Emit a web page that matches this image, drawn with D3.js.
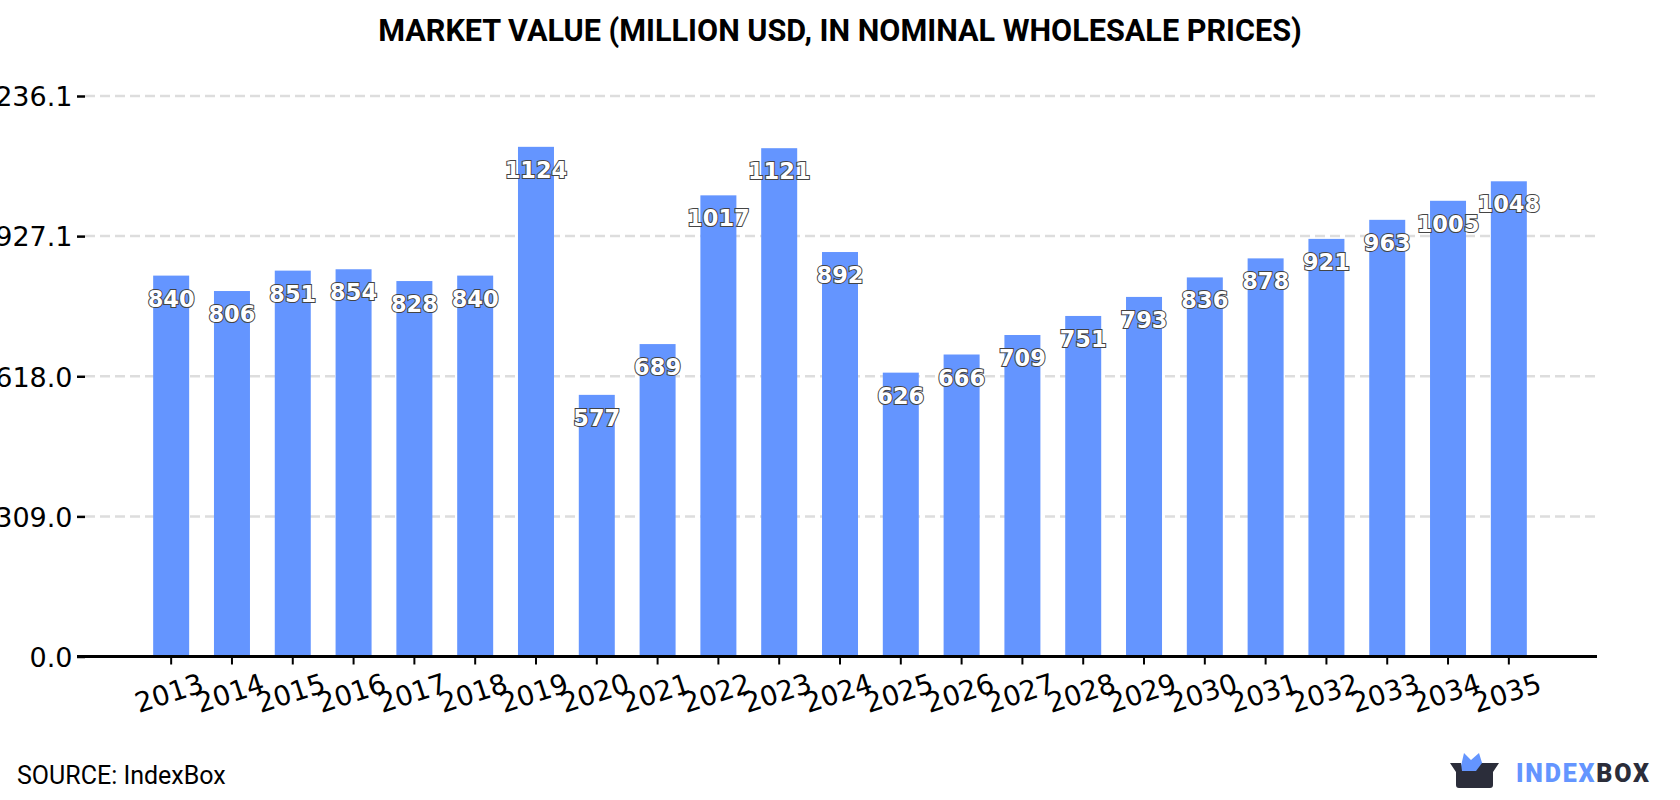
<!DOCTYPE html>
<html>
<head>
<meta charset="utf-8">
<script src="https://cdn.jsdelivr.net/npm/d3@7/dist/d3.min.js"></script>
<style>
html, body { margin: 0; padding: 0; background: #fff; overflow: hidden; }
svg { display: block; }
</style>
</head>
<body>
<svg id="chart" width="1680" height="800"></svg>
<script>
const years = ["2013","2014","2015","2016","2017","2018","2019","2020","2021","2022","2023","2024","2025","2026","2027","2028","2029","2030","2031","2032","2033","2034","2035"];
const marketValue = [840,806,851,854,828,840,1124,577,689,1017,1121,892,626,666,709,751,793,836,878,921,963,1005,1048];
const yTicks = [0, 309.0, 618.0, 927.1, 1236.1];
const titleText = "MARKET VALUE (MILLION USD, IN NOMINAL WHOLESALE PRICES)";
const sourceText = "SOURCE: IndexBox";

const svg = d3.select("#chart");
const axisFont = "'DejaVu Sans', sans-serif";
const plotLeft = 77, plotRight = 1597, plotTop = 96, plotBottom = 656.5;

const x = d3.scaleBand().domain(years).range([83, 1597]).paddingInner(0.408).paddingOuter(1.154);
const y = d3.scaleLinear().domain([0, 1236.1]).range([plotBottom, plotTop]);

// Title
svg.append("text").attr("x", 840).attr("y", 41).attr("text-anchor", "middle")
  .attr("font-family", "Roboto").attr("font-weight", 700).attr("font-size", 30.6)
  .attr("fill", "#000").text(titleText);

// Dashed horizontal grid, drawn under the bars
svg.append("g").selectAll("line").data(yTicks.slice(1)).join("line")
  .attr("x1", plotLeft + 8).attr("x2", plotRight)
  .attr("y1", d => y(d)).attr("y2", d => y(d))
  .attr("stroke", "#dddddd").attr("stroke-width", 2.5).attr("stroke-dasharray", "10 5");

// Bars
svg.append("g").selectAll("rect").data(marketValue).join("rect")
  .attr("x", (d, i) => x(years[i])).attr("width", x.bandwidth())
  .attr("y", d => y(d)).attr("height", d => y(0) - y(d))
  .attr("fill", "#6495ff");

// Y axis
const yAxis = d3.axisLeft(y).tickValues(yTicks).tickFormat(d3.format(".1f")).tickSize(8).tickPadding(6);
const gy = svg.append("g").attr("transform", `translate(${plotLeft + 8},0)`).call(yAxis);
gy.select(".domain").remove();
gy.selectAll(".tick line").attr("stroke", "#000").attr("stroke-width", 2.5);
gy.selectAll(".tick text").attr("font-family", axisFont).attr("font-size", 27).attr("fill", "#000").attr("x", -12.5).attr("dy", "0.36em");

// X axis with slanted year labels
const xAxis = d3.axisBottom(x).tickSize(8).tickSizeOuter(0);
const gx = svg.append("g").attr("transform", `translate(0,${plotBottom})`).call(xAxis);
gx.select(".domain").remove();
gx.append("line").attr("x1", plotLeft).attr("x2", plotRight).attr("stroke", "#000").attr("stroke-width", 3);
gx.selectAll(".tick line").attr("stroke", "#000").attr("stroke-width", 2);
gx.selectAll(".tick text")
  .attr("font-family", axisFont).attr("font-size", 27.5).attr("fill", "#000")
  .attr("text-anchor", "middle").attr("dy", null)
  .attr("transform", "translate(-1.5,38) rotate(-18)")
  .attr("x", 0).attr("y", 0).attr("dominant-baseline", "middle");

// Value labels inside the top of each bar
svg.append("g").selectAll("text").data(marketValue).join("text")
  .attr("x", (d, i) => x(years[i]) + x.bandwidth() / 2)
  .attr("y", d => y(d) + 31)
  .attr("text-anchor", "middle")
  .attr("font-family", axisFont).attr("font-weight", 700).attr("font-size", 22.5)
  .attr("fill", "#fff").attr("stroke", "#444").attr("stroke-width", 2)
  .attr("paint-order", "stroke")
  .text(d => d);

// Source line
svg.append("text").attr("x", 17).attr("y", 784)
  .attr("font-family", "Roboto").attr("font-size", 25).attr("fill", "#000").text(sourceText);

// IndexBox logo
const logo = svg.append("g");
logo.append("path").attr("d", "M1461 766 L1464 753 L1471 760 L1479 753 L1483 766 L1486 775 L1461 775 Z").attr("fill", "#6495ff");
logo.append("path").attr("d", "M1450 763 L1461 763 L1462 771 L1476 771 L1482 763 L1499 763 L1493 772 L1493 785 Q1493 788 1490 788 L1459 788 Q1456 788 1456 785 L1456 772 Z").attr("fill", "#2b2d3a");
const wordmark = svg.append("text").attr("x", 1516).attr("y", 782)
  .attr("font-family", "Roboto").attr("font-weight", 900).attr("font-size", 25).attr("letter-spacing", 1.8);
wordmark.append("tspan").attr("fill", "#6495ff").text("INDEX");
wordmark.append("tspan").attr("fill", "#2b2d3a").text("BOX");
</script>
</body>
</html>
